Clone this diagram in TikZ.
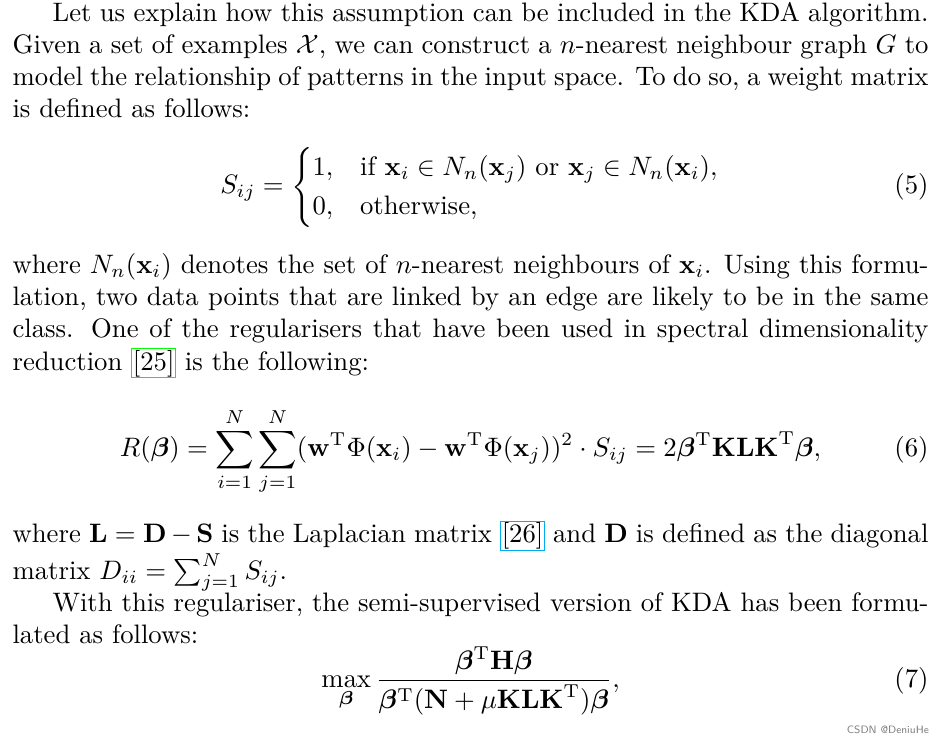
\documentclass[tikz,border=0pt]{standalone}
\usepackage{amsmath,amssymb,bm}
\usepackage{xcolor}
\newcommand{\myref}[2]{{\setlength\fboxsep{0.2pt}\setlength\fboxrule{0.4pt}\fcolorbox{#1}{white}{#2}}}
\begin{document}
\begin{tikzpicture}
\useasboundingbox (0,0) rectangle (352pt,-277.5pt);
\fill[white] (0,0) rectangle (352pt,-277.5pt);
\node[anchor=north west,inner sep=0pt,text width=343pt,align=justify] (body) at (4.5pt,-0.6pt) {%
\setlength\parindent{15pt}\setlength\abovedisplayskip{10pt plus 2pt minus 5pt}\setlength\belowdisplayskip{9pt plus 2pt minus 5pt}%
\indent Let us explain how this assumption can be included in the KDA algorithm. Given a set of examples $\mathcal{X}$, we can construct a $n$-nearest neighbour graph $G$ to\linebreak model the relationship of patterns in the input space. To do so, a weight matrix\linebreak is defined as follows:
\begin{equation*}
S_{ij}=\begin{cases}1, & \text{if } \mathbf{x}_i\in N_n(\mathbf{x}_j) \text{ or } \mathbf{x}_j\in N_n(\mathbf{x}_i),\\ 0, & \text{otherwise,}\end{cases}\tag{5}
\end{equation*}
where $N_n(\mathbf{x}_i)$ denotes the set of $n$-nearest neighbours of $\mathbf{x}_i$. Using this formulation, two data points that are linked by an edge are likely to be in the same class. One of the regularisers that have been used in spectral dimensionality reduction \myref{green}{[25]} is the following:
\begin{equation*}
R(\bm{\beta})=\sum_{i=1}^{N}\sum_{j=1}^{N}(\mathbf{w}^{\mathrm{T}}\Phi(\mathbf{x}_i)-\mathbf{w}^{\mathrm{T}}\Phi(\mathbf{x}_j))^2\cdot S_{ij}=2\bm{\beta}^{\mathrm{T}}\mathbf{KLK}^{\mathrm{T}}\bm{\beta},\tag{6}
\end{equation*}
where $\mathbf{L}=\mathbf{D}-\mathbf{S}$ is the Laplacian matrix \myref{cyan}{[26]} and $\mathbf{D}$ is defined as the diagonal matrix $D_{ii}=\sum_{j=1}^{N}S_{ij}$.

With this regulariser, the semi-supervised version of KDA has been formulated as follows:
\begin{equation*}
\max_{\bm{\beta}}\frac{\bm{\beta}^{\mathrm{T}}\mathbf{H}\bm{\beta}}{\bm{\beta}^{\mathrm{T}}(\mathbf{N}+\mu\mathbf{KLK}^{\mathrm{T}})\bm{\beta}},\tag{7}
\end{equation*}
};
\node[anchor=south east,inner sep=0pt,font=\sffamily\fontsize{4}{5}\selectfont,text=gray] (wm) at (348pt,-275pt) {CSDN @DeniuHe};
\end{tikzpicture}
\end{document}
